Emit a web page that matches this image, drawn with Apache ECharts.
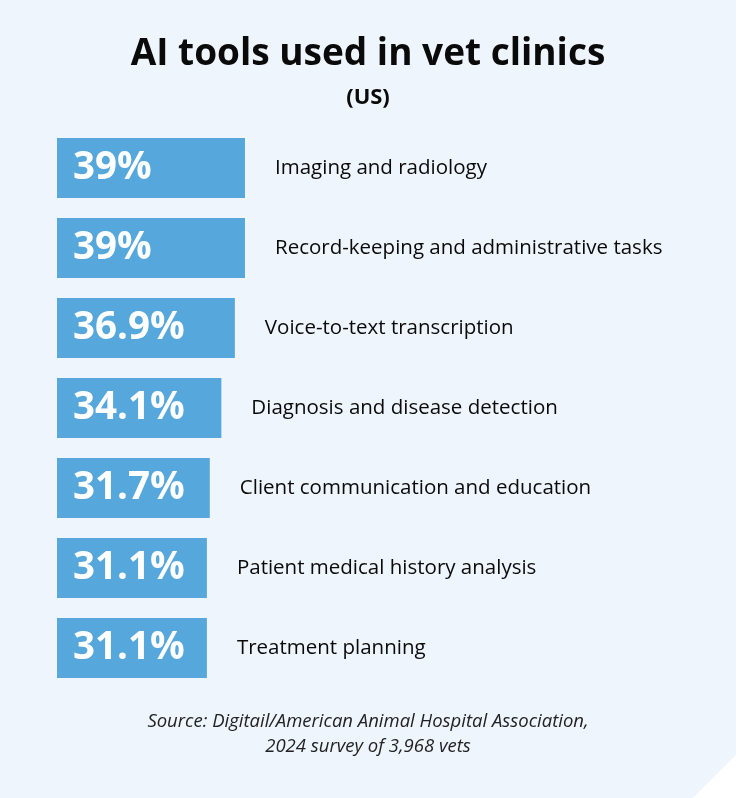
<!DOCTYPE html>
<html><head><meta charset="utf-8">
<script src="https://cdn.jsdelivr.net/npm/echarts@6/dist/echarts.min.js"></script>
<style>html,body{margin:0;padding:0;background:#eff5fc}#c{width:736px;height:798px}</style>
</head><body><div id="c"></div>
<script>
const categories = [
  "Imaging and radiology",
  "Record-keeping and administrative tasks",
  "Voice-to-text transcription",
  "Diagnosis and disease detection",
  "Client communication and education",
  "Patient medical history analysis",
  "Treatment planning"
];
const values = [39, 39, 36.9, 34.1, 31.7, 31.1, 31.1];
const titleText = "AI tools used in vet clinics";
const subtitleText = "(US)";
const sourceLines = ["Source: Digitail/American Animal Hospital Association,", "2024 survey of 3,968 vets"];

const chart = echarts.init(document.getElementById('c'), null, {renderer: 'canvas'});
const FONT = 'Open Sans';
chart.setOption({
  backgroundColor: '#eff5fc',
  animation: false,
  title: {
    text: titleText,
    subtext: subtitleText,
    left: 'center',
    top: 31,
    itemGap: 14,
    textStyle: {fontFamily: FONT, fontWeight: 'bold', fontSize: 37, color: '#0a0a0a'},
    subtextStyle: {fontFamily: FONT, fontWeight: 'bold', fontSize: 22, color: '#0a0a0a'}
  },
  grid: {left: 57, top: 128, width: 482, height: 560},
  xAxis: {type: 'value', min: 0, max: 100, show: false},
  yAxis: {type: 'category', data: categories, inverse: true, show: false},
  series: [
    {
      type: 'bar', data: values, barWidth: 60,
      itemStyle: {color: '#55a7dc'},
      label: {
        show: true, position: 'insideLeft', distance: 16,
        formatter: p => p.value + '%',
        fontFamily: FONT, fontWeight: 'bold', fontSize: 38.5, color: '#ffffff'
      }
    },
    {
      type: 'bar', data: values, barWidth: 60, barGap: '-100%',
      itemStyle: {color: 'rgba(0,0,0,0)'},
      label: {
        show: true, position: 'right', distance: 30,
        formatter: p => p.name,
        fontFamily: FONT, fontSize: 20.5, color: '#0a0a0a'
      }
    }
  ],
  graphic: [
    {type: 'polygon', shape: {points: [[693, 798], [736, 755], [736, 798]]}, style: {fill: '#ffffff'}},
    {type: 'text', x: 368, y: 722, style: {text: sourceLines[0], font: 'italic 18.5px "Open Sans"', fill: '#222', textAlign: 'center', textVerticalAlign: 'middle'}},
    {type: 'text', x: 368, y: 747, style: {text: sourceLines[1], font: 'italic 18.5px "Open Sans"', fill: '#222', textAlign: 'center', textVerticalAlign: 'middle'}}
  ]
});
</script></body></html>
